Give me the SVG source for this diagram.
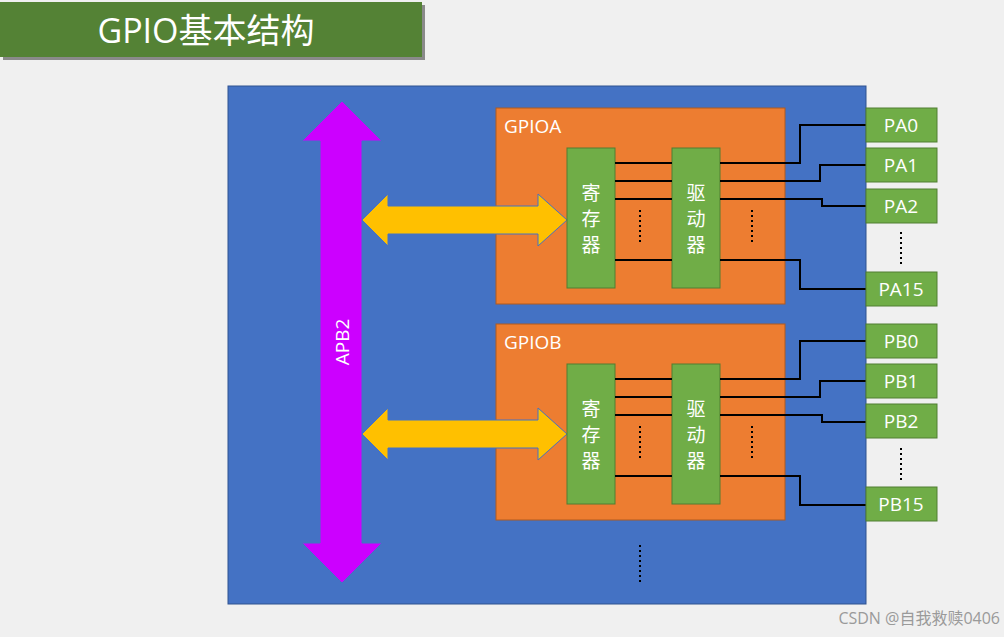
<svg xmlns="http://www.w3.org/2000/svg" width="1004" height="637" viewBox="0 0 1004 637">
<defs><style>
text{font-family:"Open Sans","Noto Sans CJK SC",sans-serif;fill:#fff}
.g{fill:#70ad47;stroke:#507e32;stroke-width:1}
.o{fill:#ed7d31;stroke:#ae5a21;stroke-width:1}
.w{fill:none;stroke:#000;stroke-width:2}
.d{stroke:#000;stroke-width:2;stroke-dasharray:2 3}
.p{font-size:19px;text-anchor:middle}
.y{fill:#ffc000;stroke:#4472c4;stroke-width:1}
</style></defs>
<rect width="1004" height="637" fill="#f0f0f0"/>
<g id="title"><rect x="3" y="5" width="422" height="55" fill="#8a8a8a"/><rect x="0" y="2" width="422" height="55" fill="#548235"/><text x="206" y="43" font-size="34" text-anchor="middle">GPIO基本结构</text></g>
<g id="chip"><rect x="228" y="86" width="638" height="518" fill="#4472c4" stroke="#2f528f"/></g>
<g id="apb2"><polygon points="342,101 382,141 362,141 362,543 382,543 342,583 302,543 320,543 320,141 302,141" fill="#cc00ff" stroke="#4472c4"/><text x="0" y="0" font-size="19" text-anchor="middle" transform="translate(349,342) rotate(-90)">APB2</text></g>
<g id="gpioa"><rect class="o" x="496" y="108" width="289" height="196"/><text x="504" y="133" font-size="19">GPIOA</text>
<polygon class="y" points="362,220 388,194 388,206 538,206 538,194 567,220 538,246 538,234 388,234 388,246"/>
<rect class="g" x="567" y="148" width="48" height="140"/><rect class="g" x="672" y="148" width="48" height="140"/>
<text class="p" x="591" y="200">寄</text><text class="p" x="591" y="226">存</text><text class="p" x="591" y="252">器</text>
<text class="p" x="696" y="200">驱</text><text class="p" x="696" y="226">动</text><text class="p" x="696" y="252">器</text></g>
<g id="gpiob"><rect class="o" x="496" y="324" width="289" height="196"/><text x="504" y="349" font-size="19">GPIOB</text>
<polygon class="y" points="362,434 388,408 388,420 538,420 538,408 567,434 538,460 538,448 388,448 388,460"/>
<rect class="g" x="567" y="364" width="48" height="140"/><rect class="g" x="672" y="364" width="48" height="140"/>
<text class="p" x="591" y="416">寄</text><text class="p" x="591" y="442">存</text><text class="p" x="591" y="468">器</text>
<text class="p" x="696" y="416">驱</text><text class="p" x="696" y="442">动</text><text class="p" x="696" y="468">器</text></g>
<g id="connectors">
<path class="w" d="M615,163H672M615,181H672M615,199H672M615,260H672"/>
<path class="w" d="M720,163H800V125H866M720,181H820V165H866M720,199H822V206H866M720,260H800V289H866"/>
<path class="w" d="M615,379H672M615,397H672M615,415H672M615,476H672"/>
<path class="w" d="M720,379H800V341H866M720,397H820V381H866M720,415H822V422H866M720,476H800V505H866"/>
<path class="d" d="M640,210V242M752,210V242M640,426V458M752,426V458M901,232V264M901,448V480M640,545V583"/>
</g>
<g id="pins">
<rect class="g" x="866" y="108" width="71" height="34"/><text class="p" x="901" y="132">PA0</text>
<rect class="g" x="866" y="148" width="71" height="34"/><text class="p" x="901" y="172">PA1</text>
<rect class="g" x="866" y="189" width="71" height="34"/><text class="p" x="901" y="213">PA2</text>
<rect class="g" x="866" y="272" width="71" height="34"/><text class="p" x="901" y="296">PA15</text>
<rect class="g" x="866" y="324" width="71" height="34"/><text class="p" x="901" y="348">PB0</text>
<rect class="g" x="866" y="364" width="71" height="34"/><text class="p" x="901" y="388">PB1</text>
<rect class="g" x="866" y="404" width="71" height="34"/><text class="p" x="901" y="428">PB2</text>
<rect class="g" x="866" y="487" width="71" height="34"/><text class="p" x="901" y="511">PB15</text>
</g>
<text x="1000" y="624" font-size="16" text-anchor="end" style="fill:#9a9a9a">CSDN @自我救赎0406</text>
</svg>
